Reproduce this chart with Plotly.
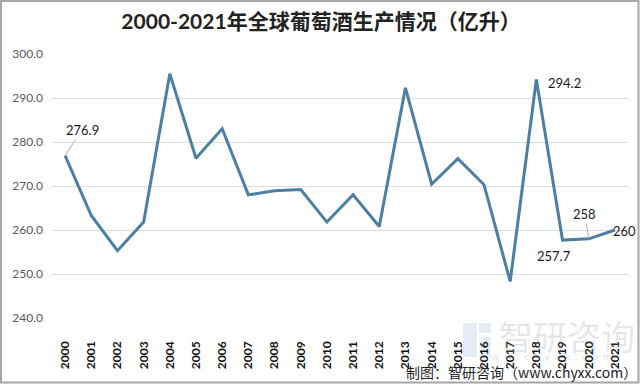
import plotly.graph_objects as go

years = [str(y) for y in range(2000, 2022)]
production = [276.9, 263.3, 255.3, 261.8, 295.5, 276.3, 283.0, 268.0, 268.9, 269.2,
              261.8, 268.0, 260.8, 292.3, 270.4, 276.2, 270.3, 248.3, 294.2, 257.7,
              258.0, 260.0]
y_ticks = [240, 250, 260, 270, 280, 290, 300]
label_texts = {0: "276.9", 18: "294.2", 19: "257.7", 20: "258", 21: "260"}

title_text = "2000-2021年全球葡萄酒生产情况（亿升）"
source_text = "制图：智研咨询（www.chyxx.com）"

FONT = "Lato, Noto Sans CJK SC, sans-serif"
CJK = "Noto Sans CJK SC, sans-serif"

fig = go.Figure()
fig.add_trace(go.Scatter(
    x=years, y=production, mode="lines",
    line=dict(color="#4b7fa3", width=3),
    hoverinfo="x+y", showlegend=False,
))

# labelled points: (index, xshift, yshift, arrow?, ax, ay)
labels = [
    (0, None, None, True, 17, -26),
    (18, 28, -3, False, 0, 0),
    (19, -9, -16, False, 0, 0),
    (20, None, None, True, -4, -25),
    (21, 10, -1, False, 0, 0),
]
annotations = []
for idx, xs, ys, arrow, ax, ay in labels:
    val = production[idx]
    txt = label_texts[idx]
    if arrow:
        annotations.append(dict(
            x=idx, y=val, xref="x", yref="y", text=txt,
            showarrow=True, arrowhead=0, arrowwidth=1, arrowcolor="#b0b0b0",
            ax=ax, ay=ay, standoff=0,
            font=dict(family=FONT, size=13, color="#1a1a1a"),
        ))
    else:
        annotations.append(dict(
            x=idx, y=val, xref="x", yref="y", text=txt,
            showarrow=False, xshift=xs, yshift=ys,
            font=dict(family=FONT, size=13, color="#1a1a1a"),
        ))

# watermark (pixel positions, converted below)
px_annotations = [
    dict(x=567, y=335, text="智研咨询", xanchor="center",
         font=dict(family=CJK, size=34, color="rgba(150,160,170,0.25)")),
    dict(x=545, y=356, text="w  w  w  .  c  h  y  x  x  .  c  o  m", xanchor="center",
         font=dict(family=FONT, size=10, color="rgba(150,160,170,0.35)")),
    dict(x=639, y=372, text=source_text, xanchor="right",
         font=dict(family=CJK, size=14, color="#222222")),
]

L, R, T, B = 52, 12, 54, 66
W, H = 640, 384
pw, ph = W - L - R, H - T - B

def px_x(p):
    return (p - L) / pw

def px_y(p):
    return (H - B - p) / ph

for a in px_annotations:
    a.update(x=px_x(a["x"]), y=px_y(a["y"]), xref="paper", yref="paper",
             yanchor="middle", showarrow=False)
    annotations.append(a)

shapes = [dict(
    type="rect", xref="paper", yref="paper",
    x0=px_x(1), x1=px_x(638.5), y0=px_y(382.5), y1=px_y(1),
    line=dict(color="#a6a6a6", width=2), fillcolor="rgba(0,0,0,0)", layer="below",
)]
# faint logo of the watermark
for x0, y0, x1, y1 in [(463, 323, 477, 357), (479, 323, 491, 333), (481, 337, 491, 357)]:
    shapes.append(dict(
        type="rect", xref="paper", yref="paper",
        x0=px_x(x0), x1=px_x(x1), y0=px_y(y1), y1=px_y(y0),
        line=dict(width=0), fillcolor="rgba(110,150,195,0.18)", layer="below",
    ))

fig.update_layout(
    width=W, height=H,
    margin=dict(l=L, r=R, t=T, b=B, autoexpand=False),
    paper_bgcolor="white", plot_bgcolor="white",
    title=dict(
        text=f"<b>{title_text}</b>", x=321 / W, y=1 - 22 / H,
        xref="container", yref="container", xanchor="center", yanchor="middle",
        font=dict(family=FONT, size=21, color="#222222"),
    ),
    xaxis=dict(
        type="category", range=[-0.5, len(years) - 0.5],
        tickangle=-90, showgrid=False, showline=False,
        ticks="", ticklabelstandoff=20, automargin=False,
        tickfont=dict(family=FONT, size=12, color="#111111", weight="bold"),
        fixedrange=True,
    ),
    yaxis=dict(
        range=[240, 300], tickvals=y_ticks, tickformat=".1f",
        showgrid=True, gridcolor="#dcdcdc", gridwidth=1, zeroline=False,
        showline=False, ticks="", ticklabelstandoff=8, automargin=False,
        tickfont=dict(family=FONT, size=12, color="#595959"),
        fixedrange=True,
    ),
    annotations=annotations,
    shapes=shapes,
)

fig.write_html(
    "out.html",
    config={"displayModeBar": False},
    post_script="document.body.style.margin='0';document.body.style.overflow='hidden';",
)
